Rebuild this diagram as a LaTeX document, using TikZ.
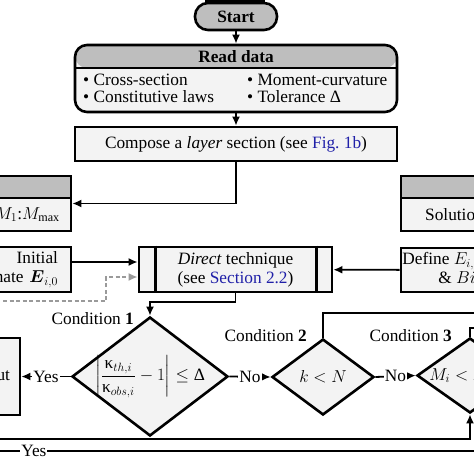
\documentclass[tikz,border=0pt]{standalone}
\usepackage{amsmath}
\usepackage{fontspec}
\setmainfont{Liberation Serif}
\usepackage{xcolor}
\usetikzlibrary{shapes.geometric,arrows.meta,positioning}
\definecolor{headgray}{HTML}{BEBEBE}
\definecolor{boxfill}{HTML}{F3F3F3}
\definecolor{reflink}{HTML}{2020A8}
\definecolor{dashgray}{HTML}{9A9A9A}

\begin{document}
\begin{tikzpicture}[x=1pt, y=-1pt, font=\fontsize{17.3}{19}\selectfont,
    >={Latex[length=9pt,width=8pt]},
    box/.style = {draw, line width=2.6pt, fill=boxfill, inner sep=0pt},
    headbox/.style = {box, path picture={
        \fill[headgray] (path picture bounding box.north west) rectangle ([yshift=-#1]path picture bounding box.north east);
        \draw[line width=2.6pt] ([yshift=-#1]path picture bounding box.north west) -- ([yshift=-#1]path picture bounding box.north east);}},
    cond/.style = {diamond, box},
    txt/.style = {inner sep=0pt},
    link/.style = {line width=1.8pt},
    tag/.style = {fill=white, inner sep=1pt}]
  \useasboundingbox (0,0) rectangle (474,474);
  \clip (0,0) rectangle (474,474);
  \fill (205,0) rectangle (265,2);

  % top of the chart
  \node[box, rounded corners=13pt, fill=headgray, minimum width=82pt, minimum height=27pt, font=\fontsize{17.3}{19}\selectfont\bfseries] (start) at (236,16.5) {Start};
  \node[headbox=23pt, rounded corners=12pt, minimum width=322pt, minimum height=67pt] (read) at (236,78.5) {};
  \node[txt, font=\fontsize{17.3}{19}\selectfont\bfseries] (readhead) at (236,56.5) {Read data};
  \node[txt, anchor=west] (item1) at (83,80) {\textbullet\ Cross-section};
  \node[txt, anchor=west] (item2) at (83,97) {\textbullet\ Constitutive laws};
  \node[txt, anchor=west] (item3) at (247,80) {\textbullet\ Moment-curvature};
  \node[txt, anchor=west] (item4) at (247,97) {\textbullet\ Tolerance Δ};
  \node[box, minimum width=322pt, minimum height=34pt] (compose) at (236,144) {Compose a \textit{layer} section (see \textcolor{reflink}{Fig.~1b})};

  % side boxes
  \node[headbox=22pt, minimum width=171pt, minimum height=55pt] (mrange) at (-14.5,203.5) {};
  \node[txt, anchor=east] (mrangetext) at (60,215) {Moment range $M_1$:$M_{\max}$};
  \node[headbox=22pt, minimum width=170pt, minimum height=55pt] (solution) at (486,203.5) {};
  \node[txt, anchor=west] (solutiontext) at (425,215) {Solution};
  \node[box, minimum width=171pt, minimum height=45pt, text width=145pt, inner xsep=13pt, align=right] (initial) at (-14.5,269.5) {Initial\\ estimate $\boldsymbol{E}_{i,0}$};
  \node[box, minimum width=193pt, minimum height=45pt, align=center] (direct) at (235.5,269.5) {\textit{Direct} technique\\(see \textcolor{reflink}{Section 2.2})};
  \draw[line width=2.6pt] ([xshift=18pt]direct.north west) -- ([xshift=18pt]direct.south west);
  \draw[line width=2.6pt] ([xshift=-17pt]direct.north east) -- ([xshift=-17pt]direct.south east);
  \node[box, minimum width=134pt, minimum height=44pt, align=center] (define) at (468,270) {Define $E_{i,k+1}$ from\\\& $Bi_{k+1}$};

  % conditions
  \node[cond, minimum width=156pt, minimum height=119pt, aspect=1.31, inner sep=-6pt] (cond1) at (150,376.5)
    {$\left|\dfrac{\text{κ}_{th,i}}{\text{κ}_{obs,i}}-1\right|\leq\text{Δ}$};
  \node[cond, minimum width=102pt, minimum height=76pt] (cond2) at (323,377) {$k<N$};
  \node[cond, minimum width=106pt, minimum height=75pt, aspect=1.41] (cond3) at (470,375.5) {$M_i<M_{\max}$};
  \node[box, minimum width=120pt, minimum height=77pt, text width=100pt, inner xsep=10pt, align=right] (output) at (-40,376.5) {Output};
  \node[txt, anchor=east] (cond1label) at ([xshift=-16pt,yshift=-3pt]cond1.north) {Condition \textbf{1}};
  \node[txt, anchor=east] (cond2label) at ([xshift=-16pt,yshift=2pt]cond2.north) {Condition \textbf{2}};
  \node[txt, anchor=east] (cond3label) at ([xshift=-18pt,yshift=1pt]cond3.north) {Condition \textbf{3}};

  \coordinate (dashin) at (-10,301);
  \coordinate (dashbend) at (106,301);
  \coordinate (c2out) at (500,313);
  \coordinate (c3out) at (500,328);
  \coordinate (loopin) at (-10,439);
  \coordinate (yesin) at (-10,451);
  \coordinate (yesout) at (500,451);

  % connectors
  \draw[link, ->] (start) -- (read);
  \draw[link, ->] (read) -- (compose);
  \draw[link, ->] (compose.south) |- (mrange.east);
  \draw[link, ->] (define) -- (direct);
  \draw[link, ->] ([yshift=7.5pt]initial.east) -- ([yshift=7.5pt]direct.west);
  \draw[link, dashgray, dash pattern=on 4pt off 2.5pt, ->] (dashin) -- (dashbend) |- ([yshift=-7.5pt]direct.west);
  \draw[link, ->] (direct.south) -- ++(0,9) -| (cond1.north);
  \draw[link, ->] (cond1.west) -- node[tag] {Yes} (output.east);
  \draw[link, ->] (cond1.east) -- node[tag] {No} (cond2.west);
  \draw[link, ->] (cond2.east) -- node[tag] {No} (cond3.west);
  \draw[link] (cond2.north) |- (c2out);
  \draw[link] (cond3.north) |- (c3out);
  \draw[link, ->] (loopin) -| (cond3.south);
  \draw[link] (yesin) -- node[tag, pos=0.086] {Yes} (yesout);
\end{tikzpicture}
\end{document}
